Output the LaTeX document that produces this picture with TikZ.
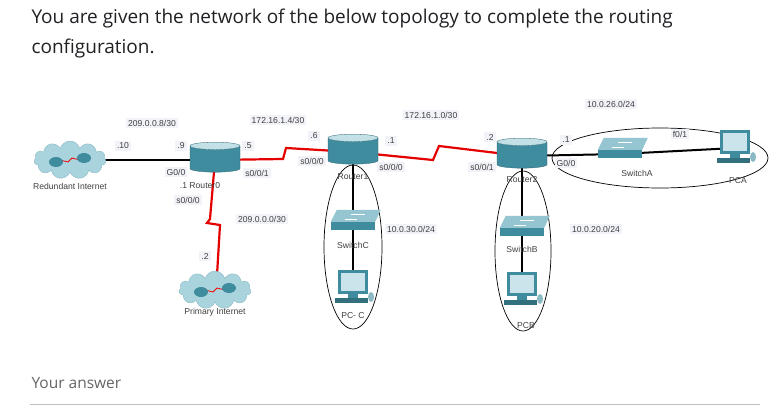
\documentclass[tikz,border=0pt]{standalone}
\usepackage{fontspec}
\setmainfont{Liberation Sans}
\newfontfamily\titlefont{Open Sans}
\usetikzlibrary{shapes.geometric,shapes.symbols}
\definecolor{teal1}{HTML}{3E8C9E}
\definecolor{teal2}{HTML}{A9D3DD}
\definecolor{lab}{HTML}{F2F3F8}
\definecolor{txt}{HTML}{202124}
\tikzset{
 lbl/.style={fill=lab,inner sep=2pt,font=\fontsize{8.6}{9}\selectfont,text=black!75},
 nm/.style={font=\fontsize{8.6}{9}\selectfont,text=black!75},
 eth/.style={line width=2pt,black},
 ser/.style={line width=2.2pt,red!90!black},
 grp/.style={draw=black,line width=0.7pt},
 router/.style={cylinder,shape border rotate=90,aspect=1.1,minimum width=50pt,minimum height=30pt,
   draw=teal1!70!black,line width=0.3pt,cylinder uses custom fill,
   cylinder end fill=teal2!70!white,cylinder body fill=teal1},
 switch/.style={rectangle,minimum width=44pt,minimum height=8pt,fill=teal1,inner sep=0pt},
 cloud1/.style={cloud,cloud puffs=11,aspect=2.2,minimum width=72pt,minimum height=38pt,fill=teal2,draw=teal1!60}
}
\newcommand{\swtop}[1]{\fill[teal2!80!teal1] (#1.north west) -- ++(6,-12) -- ++(44,0) -- (#1.north east) -- cycle;
 \draw[white,line width=0.5pt] ([xshift=14pt,yshift=3pt]#1.north west) -- ++(12,0) ([xshift=20pt,yshift=8pt]#1.north west) -- ++(14,0);}
\newcommand{\pcicon}[1]{%
 \fill[teal1] ([xshift=-15pt,yshift=18pt]#1) rectangle ([xshift=15pt,yshift=-6pt]#1);
 \fill[teal2!60!white] ([xshift=-12pt,yshift=15pt]#1) rectangle ([xshift=12pt,yshift=-3pt]#1);
 \fill[teal1] ([xshift=-5pt,yshift=-6pt]#1) rectangle ([xshift=5pt,yshift=-10pt]#1);
 \fill[teal1!80!black] ([xshift=-18pt,yshift=-10pt]#1) rectangle ([xshift=15pt,yshift=-15pt]#1);
 \fill[teal1!60] ([xshift=18pt,yshift=-9pt]#1) ellipse (3 and 5);}
\begin{document}
\begin{tikzpicture}[x=1pt,y=-1pt]
\useasboundingbox[fill=white] (0,0) rectangle (778,417);
\node[anchor=west,font=\titlefont\fontsize{19}{22}\selectfont,text=txt] (t1) at (28,19) {You are given the network of the below topology to complete the routing};
\node[anchor=west,font=\titlefont\fontsize{19}{22}\selectfont,text=txt] (t2) at (28,49) {configuration.};
\node[anchor=west,font=\titlefont\fontsize{15.5}{18}\selectfont,text=black!60] (ya) at (28,383) {Your answer};
\draw[black!25,line width=0.8pt] (30,404) -- (760,404);

\draw[grp] (353,247) ellipse (29 and 82);
\draw[grp] (523,251) ellipse (28 and 80);
\draw[grp] (660,158) ellipse (108 and 30);

\coordinate (RIc) at (70,160);
\coordinate (PIc) at (215,290);
\coordinate (R0c) at (215,160);
\coordinate (R1c) at (353,152);
\coordinate (R2c) at (522,156);
\coordinate (SCc) at (353,226);
\coordinate (SBc) at (522,232);
\coordinate (SAc) at (620,154);
\coordinate (PCCc) at (353,288);
\coordinate (PCBc) at (522,290);
\coordinate (PCAc) at (735,148);

\draw[eth] (RIc) -- (R0c);
\draw[eth] (R1c) -- (SCc) -- (PCCc);
\draw[eth] (R2c) -- (SBc) -- (PCBc);
\draw[eth] (R2c) -- (SAc) -- (PCAc);
\draw[ser] (R0c) -- (283,159) -- (286,148) -- (R1c);
\draw[ser] (R1c) -- (433,160) -- (439,146) -- (R2c);
\draw[ser] (R0c) -- (210,219) -- (207,223) -- (220,225) -- (217,275);

\node[cloud1] (RI) at (RIc) {};
\node[cloud1] (PI) at (PIc) {};
\node[router] (R0) at (R0c) {};
\node[router] (R1) at (R1c) {};
\node[router] (R2) at (R2c) {};
\node[switch] (SC) at (SCc) {};
\node[switch] (SB) at (SBc) {};
\node[switch] (SA) at (SAc) {};
\swtop{SC}\swtop{SB}\swtop{SA}
\pcicon{PCCc}
\pcicon{PCBc}
\pcicon{PCAc}

\foreach \c in {RIc,PIc}{
 \draw[red,line width=0.8pt] ([xshift=-10pt]\c) -- ([xshift=-2pt,yshift=-2pt]\c) -- ([xshift=2pt,yshift=2pt]\c) -- ([xshift=10pt]\c);
 \fill[teal1] ([xshift=-14pt,yshift=-2pt]\c) ellipse (7 and 5);
 \fill[teal1] ([xshift=14pt,yshift=2pt]\c) ellipse (7 and 5);}

\node[nm] (nRI) at (70,186) {Redundant Internet};
\node[nm] (nPI) at (215,312) {Primary Internet};
\node[nm] (nR0) at (200,186) {.1 Router0};
\node[nm] (nR1) at (353,177) {Router1};
\node[nm] (nR2) at (522,180) {Router2};
\node[nm] (nSC) at (353,245) {SwitchC};
\node[nm] (nSB) at (522,249) {SwitchB};
\node[nm] (nSA) at (637,173) {SwitchA};
\node[nm] (nPCC) at (353,316) {PC- C};
\node[nm] (nPCB) at (526,326) {PCB};
\node[nm] (nPCA) at (738,181) {PCA};

\node[lbl] at (152,123) {209.0.0.8/30};
\node[lbl] at (123,146) {.10};
\node[lbl] at (181,146) {.9};
\node[lbl] at (248,146) {.5};
\node[lbl] at (176,172) {G0/0};
\node[lbl] at (257,173) {s0/0/1};
\node[lbl] at (188,200) {s0/0/0};
\node[lbl] at (262,219) {209.0.0.0/30};
\node[lbl] at (205,256) {.2};
\node[lbl] at (278,120) {172.16.1.4/30};
\node[lbl] at (314,136) {.6};
\node[lbl] at (312,161) {s0/0/0};
\node[lbl] at (431,115) {172.16.1.0/30};
\node[lbl] at (391,141) {.1};
\node[lbl] at (391,167) {s0/0/0};
\node[lbl] at (490,137) {.2};
\node[lbl] at (482,167) {s0/0/1};
\node[lbl] at (411,229) {10.0.30.0/24};
\node[lbl] at (596,229) {10.0.20.0/24};
\node[lbl] at (611,104) {10.0.26.0/24};
\node[lbl] at (566,140) {.1};
\node[lbl] at (566,163) {G0/0};
\node[lbl] at (680,134) {f0/1};
\end{tikzpicture}
\end{document}
